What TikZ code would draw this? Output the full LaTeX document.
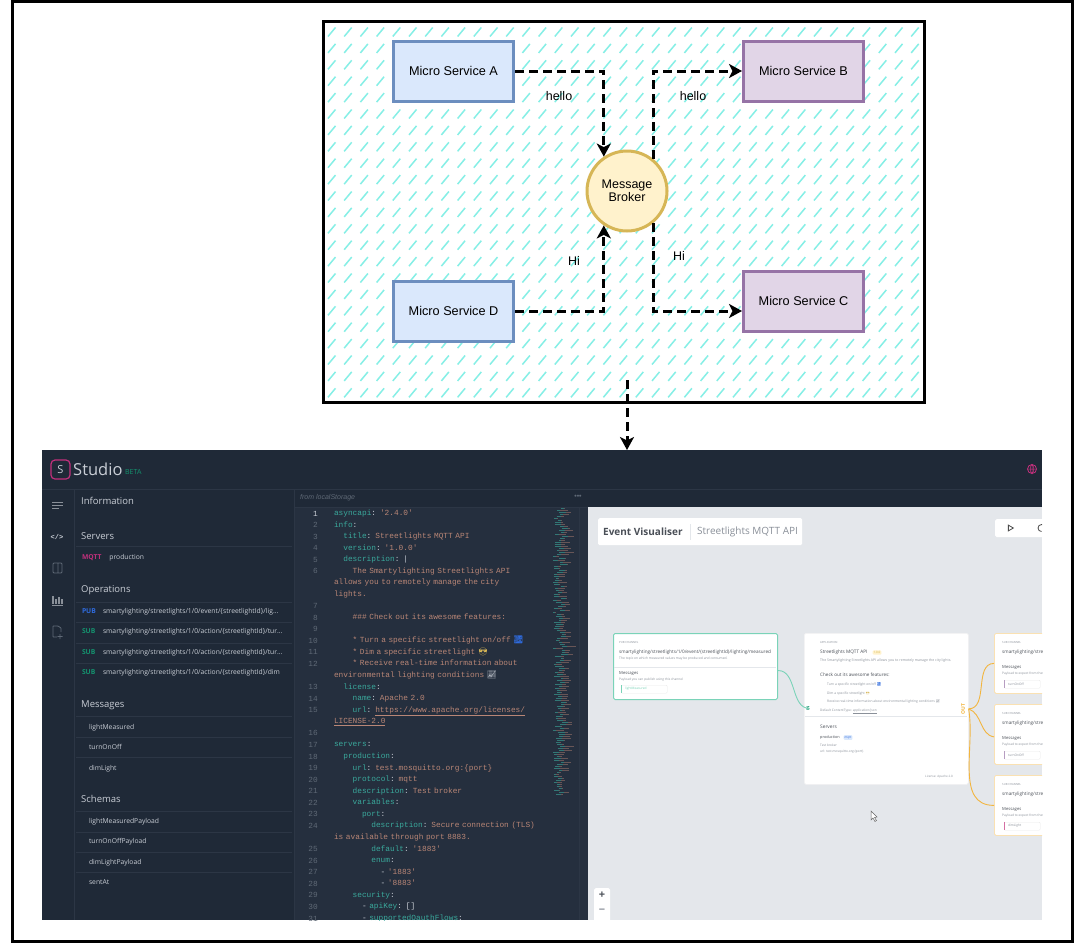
\documentclass[tikz,border=0pt]{standalone}
\usepackage{fontspec}
\setmainfont{Liberation Sans}
\setmonofont{Liberation Mono}
\newfontfamily\uifont{Open Sans}
\newfontfamily\emj{Noto Emoji}
\usetikzlibrary{arrows.meta,positioning,shapes.geometric}
\definecolor{mkHatch}{HTML}{86EFE6}
\definecolor{mkBlueF}{HTML}{DAE8FC}
\definecolor{mkBlueD}{HTML}{6C8EBF}
\definecolor{mkPurpF}{HTML}{E1D5E7}
\definecolor{mkPurpD}{HTML}{9673A6}
\definecolor{mkYelF}{HTML}{FFF2CC}
\definecolor{mkYelD}{HTML}{D6B656}
\definecolor{stDark}{HTML}{1F2937}
\definecolor{stEdit}{HTML}{252F3E}
\definecolor{stLine}{HTML}{2C3645}
\definecolor{stCanvas}{HTML}{E4E7EB}
\definecolor{stText}{HTML}{C9CED6}
\definecolor{stDim}{HTML}{5F6976}
\definecolor{stPink}{HTML}{C2307C}
\definecolor{stGreen}{HTML}{14936F}
\definecolor{stBlue}{HTML}{2F6BDE}
\definecolor{stTeal}{HTML}{7AD3B8}
\definecolor{stOrange}{HTML}{F2B53F}
\definecolor{stGrey}{HTML}{8A9099}
\definecolor{stInk}{HTML}{4A4F57}
\definecolor{cdKey}{HTML}{3AA99C}
\definecolor{cdVal}{HTML}{B98676}
\newcommand\fs[1]{\fontsize{#1}{#1}\selectfont}
\newcommand\ky[1]{\textcolor{cdKey}{#1}}
\newcommand\vl[1]{\textcolor{cdVal}{#1}}
\newcommand\ind[1]{\hspace*{#1\dimexpr 9.34pt\relax}}
\tikzset{
  svc/.style={rectangle, line width=3pt, minimum width=120pt, minimum height=60pt, font=\fs{12.7}},
  svcA/.style={svc, draw=mkBlueD, fill=mkBlueF},
  svcB/.style={svc, draw=mkPurpD, fill=mkPurpF},
  hub/.style={circle, draw=mkYelD, fill=mkYelF, line width=3pt, minimum size=80pt, inner sep=0pt, font=\fs{12.5}, align=center},
  lbl/.style={font=\fs{12.5}, inner sep=0pt},
  flow/.style={-{Stealth[length=13pt,width=14pt,inset=3.5pt]}, line width=3pt, dash pattern=on 9pt off 5pt},
  panel/.style={anchor=north west, inner sep=0pt, outer sep=0pt},
  sbhead/.style={font=\uifont\fs{9.5}, text=stText, inner sep=0pt, anchor=west},
  sbrow/.style={font=\uifont\fs{6.75}, text=stText, inner sep=0pt, outer sep=0pt, text width=200pt, align=left, minimum height=20.2pt, text height=5pt, text depth=1.5pt},
  cd/.style={font=\ttfamily\fs{7.8}, inner sep=0pt, outer sep=0pt, text width=250pt, align=left, minimum height=11.57pt, text height=6pt, text depth=2pt},
  lnum/.style={font=\ttfamily\fs{7.8}, text=stDim, inner sep=0pt, anchor=east},
  card/.style={anchor=north west, fill=white, rounded corners=1.5pt, inner sep=0pt},
  tiny/.style={font=\uifont\fs{#1}, inner sep=0pt, anchor=west, text=stInk},
  tiny/.default=4,
  pill/.style={draw=black!8, fill=white, rounded corners=1pt, minimum width=46pt, minimum height=8pt, inner sep=0pt, anchor=north west},
  tag/.style={font=\uifont\fs{3}, inner sep=1pt, rounded corners=1pt},
  wire/.style={line width=0.9pt},
  icn/.style={draw=stGrey, line width=0.8pt},
}
\begin{document}
\begin{tikzpicture}[x=1pt, y=-1pt, node distance=0pt]
  \useasboundingbox (0,0) rectangle (1083,943);
  \fill[white] (0,0) rectangle (1083,943);
  \draw[line width=3pt] (12.5,1) rectangle (1072,941);

  \foreach \i in {0,...,36} \foreach \j in {0,...,22}
    \draw[mkHatch, line width=1.5pt] ({328+16.2*\i},{32+16.4*\j+4.5}) -- ++(7.5,-9);
  \node[panel, draw, line width=3pt, minimum width=601pt, minimum height=381pt] (zone) at (323.5,21) {};

  \node[svcA] (msa) at (453.5,71) {Micro Service A};
  \node[svcB, right=227pt of msa] (msb) {Micro Service B};
  \node[svcA, below=177pt of msa] (msd) {Micro Service D};
  \node[svcB, below=167pt of msb] (msc) {Micro Service C};
  \node[hub] (broker) at (627,191) {Message\\[1pt]Broker};

  \draw[flow] (msa.east) -| (broker.124);
  \draw[flow] (msd.east) -| (broker.236);
  \draw[flow] (broker.51) |- (msb.west);
  \draw[flow] (broker.-51) |- ([yshift=-10pt]msc.west);
  \node[lbl] (hello1) at (559,96) {hello};
  \node[lbl] (hello2) at (693,96) {hello};
  \node[lbl] (hi1) at (574,261) {Hi};
  \node[lbl] (hi2) at (679,256) {Hi};

  \node[panel, fill=stDark, minimum width=1000pt, minimum height=470pt] (shot) at (42,450) {};
  \coordinate (drop) at (627,380);
  \draw[flow] (drop) -- (drop |- shot.north);

  \begin{scope}
    \clip (42,450) rectangle (1042,920);
    \node[panel, fill=stEdit, minimum width=294pt, minimum height=413pt] (editor) at (294,507) {};
    \node[panel, fill=stCanvas, minimum width=454pt, minimum height=413pt] (canvas) at (588,507) {};
    \draw[stLine, line width=0.7pt] (42,489) -- (1042,489) (74,490) -- (74,920) (294,490) -- (294,920) (294,507) -- (588,507) (579,507) -- (579,920);

    % header
    \node[draw=stPink, line width=1.2pt, rounded corners=4pt, minimum size=19pt, inner sep=0pt, text=stText, font=\uifont\fs{11}] (logo) at (60.5,469.5) {S};
    \node[font=\uifont\fs{16.5}, text=stText, inner sep=0pt, anchor=west] (studio) at (73,469) {Studio};
    \node[font=\uifont\fs{7}, text=stGreen, inner sep=0pt, anchor=west] (beta) at (125,472) {BETA};
    \node[circle, draw=stPink, line width=0.8pt, minimum size=9pt, inner sep=0pt] (globe) at (1032,469) {};
    \draw[stPink, line width=0.5pt] (globe.north) -- (globe.south) (globe.west) -- (globe.east) (globe.north) to[bend left=40] (globe.south) (globe.north) to[bend right=40] (globe.south);

    % rail
    \draw[icn] (52,502) -- (63,502) (52,505) -- (63,505) (52,508) -- (59,508);
    \node[font=\ttfamily\bfseries\fs{7}, text=stText, inner sep=0pt] (codeI) at (57,537) {</>};
    \draw[icn, stDim, rounded corners=1pt] (53,563) rectangle (62,573) (58,563) -- (58,573);
    \draw[icn] (52,605) -- (63,605);
    \draw[icn, line width=1.4pt] (53,604) -- (53,596) (56,604) -- (56,599) (59,604) -- (59,597) (62,604) -- (62,599);
    \draw[icn, stDim, rounded corners=0.5pt] (61,632) -- (61,628) -- (58,626) -- (53,626) -- (53,637) -- (57,637) (60,634) -- (60,639) (57.5,636.5) -- (62.5,636.5);

    % sidebar
    \node[sbhead] (infoH) at (81,501) {Information};
    \node[sbhead] (srvH) at (81,536) {Servers};
    \node[sbrow, anchor=west] (srv1) at (82,558) {\textcolor{stPink}{\textbf{MQTT}}\hspace{8pt}production};
    \node[sbhead] (opsH) at (81,590) {Operations};
    \node[sbrow, anchor=west] (op1) at (82,612) {\makebox[21pt][l]{\textcolor{stBlue}{\textbf{PUB}}}smartylighting/streetlights/1/0/event/\{streetlightId\}/lig...};
    \node[sbrow, below=of op1] (op2) {\makebox[21pt][l]{\textcolor{stGreen}{\textbf{SUB}}}smartylighting/streetlights/1/0/action/\{streetlightId\}/tur...};
    \node[sbrow, below=of op2] (op3) {\makebox[21pt][l]{\textcolor{stGreen}{\textbf{SUB}}}smartylighting/streetlights/1/0/action/\{streetlightId\}/tur...};
    \node[sbrow, below=of op3] (op4) {\makebox[21pt][l]{\textcolor{stGreen}{\textbf{SUB}}}smartylighting/streetlights/1/0/action/\{streetlightId\}/dim};
    \node[sbhead] (msgH) at (81,705) {Messages};
    \node[sbrow, anchor=west] (msg1) at (89,728) {lightMeasured};
    \node[sbrow, below=of msg1] (msg2) {turnOnOff};
    \node[sbrow, below=of msg2] (msg3) {dimLight};
    \node[sbhead] (schH) at (81,799) {Schemas};
    \node[sbrow, anchor=west] (sch1) at (89,822) {lightMeasuredPayload};
    \node[sbrow, below=of sch1] (sch2) {turnOnOffPayload};
    \node[sbrow, below=of sch2] (sch3) {dimLightPayload};
    \node[sbrow, below=of sch3] (sch4) {sentAt};
    \foreach \y in {546,602,622,643,663,716,737,757,811,832,852,872}
      \draw[stLine, line width=0.5pt] (76,\y) -- (292,\y);

    % editor
    \node[font=\itshape\fs{7}, text=stDim, inner sep=0pt, anchor=west] (from) at (300,498) {from localStorage};
    \node[font=\bfseries\fs{7}, text=stDim, inner sep=0pt] (more) at (578,497) {•••};
    \foreach \l/\r in {2/1,3/2,4/3,5/4,6/5,7/8,8/9,9/10,10/11,11/12,12/13,13/15,14/16,15/17,16/19,17/20,18/21,19/22,20/23,21/24,22/25,23/26,24/27,25/29,26/30,27/31,28/32,29/33,30/34,31/35}
      \node[lnum] (n\l) at (318,{513.5+11.57*\r}) {\l};
    \node[lnum, text=stText] (n1) at (318,513.5) {1};
    \node[cd, anchor=west] (cd1) at (334,513.5) {\ky{asyncapi}\textcolor{stText}{:} \vl{'2.4.0'}};
    \node[cd, below=of cd1] (cd2) {\ky{info}\textcolor{stText}{:}};
    \node[cd, below=of cd2] (cd3) {\ind{1}\ky{title}\textcolor{stText}{:} \vl{Streetlights MQTT API}};
    \node[cd, below=of cd3] (cd4) {\ind{1}\ky{version}\textcolor{stText}{:} \vl{'1.0.0'}};
    \node[cd, below=of cd4] (cd5) {\ind{1}\ky{description}\textcolor{stText}{: |}};
    \node[cd, below=of cd5] (cd6) {\ind{2}\vl{The Smartylighting Streetlights API}};
    \node[cd, below=of cd6] (cd6b) {\vl{allows you to remotely manage the city}};
    \node[cd, below=of cd6b] (cd6c) {\vl{lights.}};
    \node[cd, below=of cd6c] (cd7) {};
    \node[cd, below=of cd7] (cd8) {\ind{2}\vl{\#\#\# Check out its awesome features:}};
    \node[cd, below=of cd8] (cd9) {};
    \node[cd, below=of cd9] (cd10) {\ind{2}\vl{* Turn a specific streetlight on/off} \textcolor{stBlue}{\emj 🌃}};
    \node[cd, below=of cd10] (cd11) {\ind{2}\vl{* Dim a specific streetlight} \textcolor{mkYelD}{\emj 😎}};
    \node[cd, below=of cd11] (cd12) {\ind{2}\vl{* Receive real-time information about}};
    \node[cd, below=of cd12] (cd12b) {\vl{environmental lighting conditions} \textcolor{stText}{\emj 📈}};
    \node[cd, below=of cd12b] (cd13) {\ind{1}\ky{license}\textcolor{stText}{:}};
    \node[cd, below=of cd13] (cd14) {\ind{2}\ky{name}\textcolor{stText}{:} \vl{Apache 2.0}};
    \node[cd, below=of cd14] (cd15) {\ind{2}\ky{url}\textcolor{stText}{:} \textcolor{cdVal}{\underline{https://www.apache.org/licenses/}}};
    \node[cd, below=of cd15] (cd15b) {\textcolor{cdVal}{\underline{LICENSE-2.0}}};
    \node[cd, below=of cd15b] (cd16) {};
    \node[cd, below=of cd16] (cd17) {\ky{servers}\textcolor{stText}{:}};
    \node[cd, below=of cd17] (cd18) {\ind{1}\ky{production}\textcolor{stText}{:}};
    \node[cd, below=of cd18] (cd19) {\ind{2}\ky{url}\textcolor{stText}{:} \vl{test.mosquitto.org:\{port\}}};
    \node[cd, below=of cd19] (cd20) {\ind{2}\ky{protocol}\textcolor{stText}{:} \vl{mqtt}};
    \node[cd, below=of cd20] (cd21) {\ind{2}\ky{description}\textcolor{stText}{:} \vl{Test broker}};
    \node[cd, below=of cd21] (cd22) {\ind{2}\ky{variables}\textcolor{stText}{:}};
    \node[cd, below=of cd22] (cd23) {\ind{3}\ky{port}\textcolor{stText}{:}};
    \node[cd, below=of cd23] (cd24) {\ind{4}\ky{description}\textcolor{stText}{:} \vl{Secure connection (TLS)}};
    \node[cd, below=of cd24] (cd24b) {\vl{is available through port 8883.}};
    \node[cd, below=of cd24b] (cd25) {\ind{4}\ky{default}\textcolor{stText}{:} \vl{'1883'}};
    \node[cd, below=of cd25] (cd26) {\ind{4}\ky{enum}\textcolor{stText}{:}};
    \node[cd, below=of cd26] (cd27) {\ind{5}\textcolor{stText}{-} \vl{'1883'}};
    \node[cd, below=of cd27] (cd28) {\ind{5}\textcolor{stText}{-} \vl{'8883'}};
    \node[cd, below=of cd28] (cd29) {\ind{2}\ky{security}\textcolor{stText}{:}};
    \node[cd, below=of cd29] (cd30) {\ind{3}\textcolor{stText}{-} \ky{apiKey}\textcolor{stText}{: []}};
    \node[cd, below=of cd30] (cd31) {\ind{3}\textcolor{stText}{-} \ky{supportedOauthFlows}\textcolor{stText}{:}};
    \pgfmathsetseed{7}
    \foreach \k in {0,...,143}{
      \pgfmathsetmacro\xa{553+rnd*9}
      \pgfmathsetmacro\xb{\xa+2+rnd*5}
      \pgfmathsetmacro\xc{\xb+rnd*9}
      \draw[cdKey!60!stEdit, line width=0.4pt] (\xa,{508+2*\k}) -- (\xb,{508+2*\k});
      \draw[cdVal!45!stEdit, line width=0.4pt] (\xb,{508+2*\k}) -- (\xc,{508+2*\k});
    }

    % canvas
    \node[card, minimum width=204pt, minimum height=27pt] (evBox) at (598,518) {};
    \node[font=\uifont\bfseries\fs{10}, text=stInk, inner sep=0pt, anchor=west] (evT) at (603,532) {Event Visualiser};
    \node[font=\uifont\fs{10}, text=stGrey, inner sep=0pt, anchor=west] (evS) at (697,532) {Streetlights MQTT API};
    \draw[stCanvas, line width=0.6pt] (690,524) -- (690,540);
    \node[card, minimum width=60pt, minimum height=18pt] (ctl) at (995,519) {};
    \node[isosceles triangle, draw=black!70, line width=0.8pt, minimum size=5pt, inner sep=0pt, isosceles triangle apex angle=60] (play) at (1010,528) {};
    \draw[black!70, line width=0.8pt] (1041.5,528) ++(-45:3.5) arc (-45:-270:3.5);
    \node[card, minimum width=16pt, minimum height=40pt] (zoomB) at (594,888) {};
    \node[font=\uifont\bfseries\fs{11}, text=stInk, inner sep=0pt] (plus) at (602,895) {+};
    \node[font=\uifont\bfseries\fs{11}, text=stGrey, inner sep=0pt] (minus) at (602,911) {−};

    % channel card
    \node[card, draw=stTeal, line width=1pt, minimum width=164pt, minimum height=66pt] (chan) at (613,633) {};
    \node[tiny=2.8, text=stGrey] (chanK) at (619,642) {PUB CHANNEL};
    \node[tiny=4.65] (chanT) at (619,652.5) {smartylighting/streetlights/1/0/event/\{streetlightId\}/lighting/measured};
    \node[tiny=3.3, text=stGrey] (chanD) at (619,659) {The topic on which measured values may be produced and consumed.};
    \draw[stCanvas, line width=0.5pt] (614,667) -- (776,667);
    \node[tiny=4.2] (chanM) at (619,673.5) {Messages};
    \node[tiny=3.2, text=stGrey] (chanP) at (619,680) {Payload you can publish using this channel};
    \node[pill, minimum width=46pt] (chanF) at (621,685) {};
    \draw[stTeal, line width=1.2pt] (621.5,685) -- (621.5,693);
    \node[tiny=3.2, text=stTeal] (chanL) at (625,689) {lightMeasured};

    % application card
    \node[card, draw=black!5, line width=0.6pt, minimum width=164pt, minimum height=151pt] (app) at (804,633) {};
    \node[tiny=2.8, text=stGrey] (appK) at (820,642) {APPLICATION};
    \node[tiny=4.7] (appT) at (820,652.5) {Streetlights MQTT API};
    \node[tag, fill=mkYelF, text=mkYelD] (appV) at (877,652.5) {1.0.0};
    \node[tiny=3.5, text=stGrey] (appD) at (820,661) {The Smartylighting Streetlights API allows you to remotely manage the city lights.};
    \node[tiny=4.6] (appC) at (820,675) {Check out its awesome features:};
    \node[tiny=3.3, text=stGrey] (appF1) at (827,684.5) {Turn a specific streetlight on/off \textcolor{stBlue}{\emj 🌃}};
    \node[tiny=3.3, text=stGrey] (appF2) at (827,693) {Dim a specific streetlight \textcolor{mkYelD}{\emj 😎}};
    \node[tiny=3.3, text=stGrey] (appF3) at (827,701) {Receive real-time information about environmental lighting conditions \emj 📈};
    \node[tiny=3.2, text=stGrey] (appJ) at (820,711.5) {Default ContentType: \underline{application/json}};
    \draw[stCanvas, line width=0.5pt] (805,716) -- (967,716);
    \node[tiny=4.8] (appS) at (820,727) {Servers};
    \node[tiny=3.8] (appP) at (820,737.5) {production};
    \node[tag, fill=mkBlueF, text=stBlue] (appQ) at (848,737.5) {mqtt};
    \node[tiny=3.2, text=stGrey] (appB) at (820,745.5) {Test broker};
    \node[tiny=3.2, text=stGrey] (appU) at (820,751.5) {url: test.mosquitto.org:\{port\}};
    \node[tiny=3, text=stGrey] (appL) at (925,777) {License: Apache 2.0};
    \node[font=\uifont\bfseries\fs{5}, text=stOrange, inner sep=0pt, rotate=90] (outL) at (963,709) {OUT};
    \node[font=\uifont\bfseries\fs{4}, text=stGreen, inner sep=0pt, rotate=90] (inL) at (808,708.5) {IN};
    \draw[stTeal, wire] ([yshift=-4pt]chan.east) to[out=0, in=180] (inL.south);

    % subscriber cards
    \foreach \i/\y/\m/\c in {1/633/turnOnOff/mkPurpD, 2/704/turnOnOff/mkPurpD, 3/775/dimLight/stPink}{
      \node[card, draw=stOrange!40, line width=0.8pt, minimum width=164pt, minimum height=60pt] (sub\i) at (994,\y) {};
      \node[tiny=2.8, text=stGrey] (subK\i) at (1002,{\y+9}) {SUB CHANNEL};
      \node[tiny=4.65] (subT\i) at (1002,{\y+19.5}) {smartylighting/streetlights/1/0/action};
      \node[tiny=4.2] (subM\i) at (1002,{\y+34}) {Messages};
      \node[tiny=3.2, text=stGrey] (subD\i) at (1002,{\y+41}) {Payload to expect from these channels};
      \node[pill, minimum width=36pt] (subF\i) at (1004,{\y+47}) {};
      \draw[\c!70, line width=1.2pt] (1004.5,{\y+47}) -- (1004.5,{\y+55});
      \node[tiny=3.2, text=stGrey] (subL\i) at (1008,{\y+51}) {\m};
    }
    \draw[stOrange, wire] (app.east) to[out=0, in=180] (sub1.west);
    \draw[stOrange, wire] (app.east) to[out=-20, in=170] ([yshift=-2.5pt]sub2.west);
    \draw[stOrange, wire] (app.east) to[out=-80, in=180] (sub3.west);

    \draw[black!60, fill=white, line width=0.5pt] (871,811) -- (871,820) -- (873,818) -- (875,821.5) -- (876.5,820.5) -- (874.5,817.5) -- (877,817) -- cycle;
  \end{scope}
\end{tikzpicture}
\end{document}
